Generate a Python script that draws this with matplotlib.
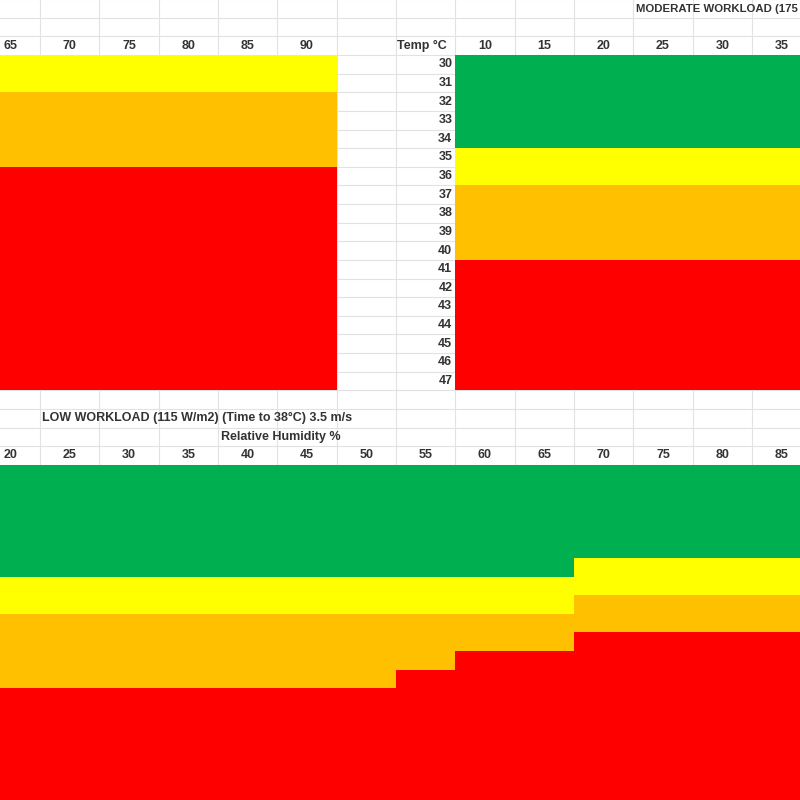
import matplotlib.pyplot as plt
import numpy as np
from matplotlib.colors import ListedColormap

# colours used in the sheet (Excel standard fills)
band_colors = ['#00B050', '#FFFF00', '#FFC000', '#FF0000']  # green, yellow, orange, red

temps = [30, 31, 32, 33, 34, 35, 36, 37, 38, 39, 40, 41, 42, 43, 44, 45, 46, 47]

# top-left block (heading is off screen)
rh_left = [65, 70, 75, 80, 85, 90]
left_green_max = [29, 29, 29, 29, 29, 29]
left_yellow_max = [31, 31, 31, 31, 31, 31]
left_orange_max = [35, 35, 35, 35, 35, 35]

# top-right block: moderate workload
rh_right = [10, 15, 20, 25, 30, 35]
right_green_max = [34, 34, 34, 34, 34, 34]
right_yellow_max = [36, 36, 36, 36, 36, 36]
right_orange_max = [40, 40, 40, 40, 40, 40]

# bottom block: low workload
rh_low = [20, 25, 30, 35, 40, 45, 50, 55, 60, 65, 70, 75, 80, 85]
low_green_max = [35, 35, 35, 35, 35, 35, 35, 35, 35, 35, 34, 34, 34, 34]
low_yellow_max = [37, 37, 37, 37, 37, 37, 37, 37, 37, 37, 36, 36, 36, 36]
low_orange_max = [41, 41, 41, 41, 41, 41, 41, 40, 39, 39, 38, 38, 38, 38]

title_moderate = 'MODERATE WORKLOAD (175'  # rest of the heading is off screen
title_low = 'LOW WORKLOAD (115 W/m2) (Time to 38°C) 3.5 m/s'
rh_label = 'Relative Humidity %'
temp_label = 'Temp °C'

cmap = ListedColormap(band_colors)
font = dict(family=['Liberation Sans Narrow', 'Liberation Sans', 'DejaVu Sans'],
            fontweight='bold', fontsize=9, color='#333333', zorder=3)


def categories(gmax, ymax, omax):
    grid = np.zeros((len(temps), len(gmax)))
    for j in range(len(gmax)):
        for i, t in enumerate(temps):
            if t <= gmax[j]:
                grid[i, j] = 0
            elif t <= ymax[j]:
                grid[i, j] = 1
            elif t <= omax[j]:
                grid[i, j] = 2
            else:
                grid[i, j] = 3
    return grid


def draw_block(ax, col0, row0, gmax, ymax, omax):
    vals = categories(gmax, ymax, omax)
    xe = col0 + np.arange(vals.shape[1] + 1)
    ye = row0 + np.arange(vals.shape[0] + 1)
    ax.pcolormesh(xe, ye, vals, cmap=cmap, vmin=-0.5, vmax=3.5,
                  shading='flat', antialiased=False, linewidth=0, zorder=1)


fig = plt.figure(figsize=(8, 8), dpi=100)
ax = fig.add_axes([0, 0, 1, 1])
ax.set_xlim(-0.674, 12.81)
ax.set_ylim(43.0, 0.043)
ax.axis('off')

# spreadsheet gridlines
ax.hlines(np.arange(0, 45), -2, 14, color='#e2e2e2', lw=0.8, zorder=0)
ax.vlines(np.arange(-2, 15), -1, 45, color='#e2e2e2', lw=0.8, zorder=0)

draw_block(ax, -1, 3, left_green_max, left_yellow_max, left_orange_max)
draw_block(ax, 7, 3, right_green_max, right_yellow_max, right_orange_max)
draw_block(ax, -1, 25, low_green_max, low_yellow_max, low_orange_max)

# headers of the top blocks
for i, rh in enumerate(rh_left):
    ax.text(-1 + i + 0.5, 2.5, str(rh), ha='center', va='center', **font)
for i, rh in enumerate(rh_right):
    ax.text(7 + i + 0.5, 2.5, str(rh), ha='center', va='center', **font)
ax.text(7 - 0.14, 2.5, temp_label, ha='right', va='center', **font)
for i, t in enumerate(temps):
    ax.text(7 - 0.05, 3 + i + 0.5, str(t), ha='right', va='center', **font)
ax.text(10 + 0.04, 0.5, title_moderate, ha='left', va='center',
        **{**font, 'fontsize': 8.2})

# headers of the bottom block
ax.text(0 + 0.04, 22.5, title_low, ha='left', va='center', **font)
ax.text(3 + 0.05, 23.5, rh_label, ha='left', va='center', **font)
for i, rh in enumerate(rh_low):
    ax.text(-1 + i + 0.5, 24.5, str(rh), ha='center', va='center', **font)

fig.savefig('out.png', dpi=100)
